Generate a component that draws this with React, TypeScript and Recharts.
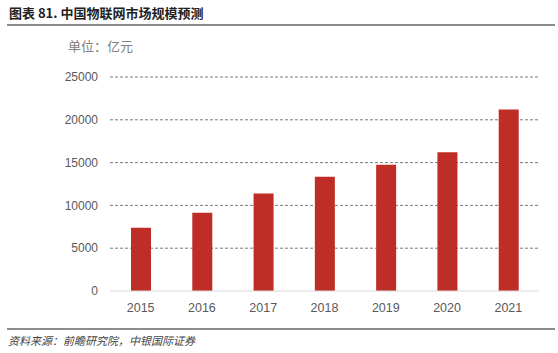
import React from 'react';
import { BarChart, Bar, XAxis, YAxis, CartesianGrid } from 'recharts';

const years = ['2015', '2016', '2017', '2018', '2019', '2020', '2021'];
const marketSize = [7400, 9150, 11400, 13350, 14750, 16200, 21200];
const yTicks = [0, 5000, 10000, 15000, 20000, 25000];

const data = years.map((year, i) => ({ year, value: marketSize[i] }));

const FONT = '"Liberation Sans", Arial, sans-serif';
const CJK = '"Noto Sans CJK SC", sans-serif';

export default function App() {
  return (
    <div style={{ position: 'absolute', left: 0, top: 0, width: 558, height: 353, background: '#fff', overflow: 'hidden' }}>
      <div style={{ position: 'absolute', left: 9, top: 3, fontFamily: CJK, fontWeight: 700, fontSize: 13, color: '#222', whiteSpace: 'nowrap' }}>
        图表 81. 中国物联网市场规模预测
      </div>
      <div style={{ position: 'absolute', left: 7, top: 24, width: 548, height: 2, background: '#8c8c8c' }} />
      <div style={{ position: 'absolute', left: 68, top: 36, fontFamily: CJK, fontSize: 13, color: '#808080', whiteSpace: 'nowrap' }}>
        单位：亿元
      </div>

      <BarChart
        width={558}
        height={353}
        data={data}
        margin={{ top: 77, right: 19, left: 0, bottom: 32 }}
        style={{ position: 'absolute', left: 0, top: 0 }}
      >
        <CartesianGrid
          vertical={false}
          horizontalValues={[5000, 10000, 15000, 20000, 25000]}
          stroke="#7a7a7a"
          strokeDasharray="3 2"
        />
        <XAxis
          dataKey="year"
          height={30}
          tickLine={false}
          axisLine={{ stroke: '#d9d9d9' }}
          tickMargin={6}
          tick={{ fill: '#595959', fontSize: 12.5, fontFamily: FONT }}
        />
        <YAxis
          width={110}
          domain={[0, 25000]}
          ticks={yTicks}
          tickLine={false}
          axisLine={false}
          tickMargin={6}
          tick={{ fill: '#595959', fontSize: 12, fontFamily: FONT }}
        />
        <Bar dataKey="value" fill="#BE2E27" barSize={20} isAnimationActive={false} />
      </BarChart>

      <div style={{ position: 'absolute', left: 7, top: 328, width: 548, height: 2, background: '#8c8c8c' }} />
      <div style={{ position: 'absolute', left: 8, top: 332, fontFamily: CJK, fontStyle: 'italic', fontSize: 11, color: '#444', whiteSpace: 'nowrap' }}>
        资料来源：前瞻研究院，中银国际证券
      </div>
    </div>
  );
}
